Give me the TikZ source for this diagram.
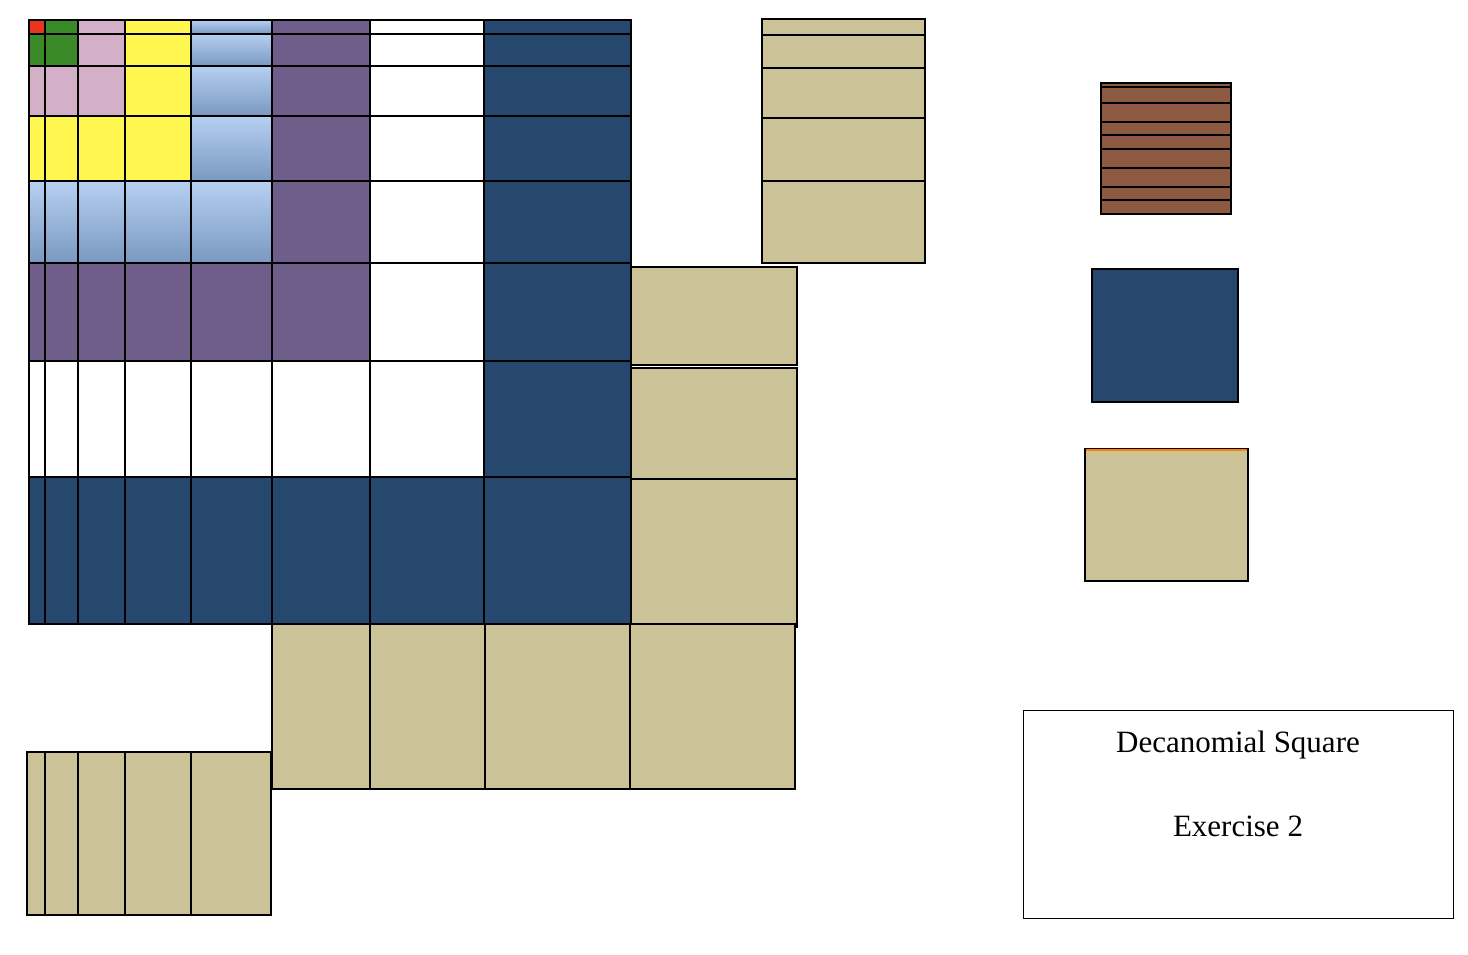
\documentclass[tikz,border=0pt]{standalone}
\usepackage{fontspec}
\setmainfont{Liberation Serif}
\begin{document}
\begin{tikzpicture}[x=1pt,y=-1pt,
  cell/.style={draw=black,line width=1.3pt},
  tanc/.style={cell,fill=tanc},
  lbl/.style={font=\fontsize{31}{36}\selectfont}]
\definecolor{c0}{HTML}{E8361E}
\definecolor{c1}{HTML}{3A8A2A}
\definecolor{c2}{HTML}{D4B0C8}
\definecolor{c3}{HTML}{FFF650}
\definecolor{c4}{HTML}{86B0E8}
\definecolor{c5}{HTML}{705E8A}
\definecolor{c6}{HTML}{FFFFFF}
\definecolor{c7}{HTML}{27486E}
\definecolor{tanc}{HTML}{CBC397}
\definecolor{brownc}{HTML}{8B5A40}
\useasboundingbox (0,0) rectangle (1468,954);
\def\XS{{29,45,78,125,191,272,370,484,631}}
\def\YS{{20,34,66,116,181,263,361,477,624}}
\foreach \i in {0,...,7}{
  \foreach \j in {0,...,7}{
    \pgfmathtruncatemacro{\k}{max(\i,\j)}
    \pgfmathsetmacro{\xa}{\XS[\i]}\pgfmathsetmacro{\xb}{\XS[\i+1]}
    \pgfmathsetmacro{\ya}{\YS[\j]}\pgfmathsetmacro{\yb}{\YS[\j+1]}
    \ifnum\k=4
      \draw[cell,top color=c4!60!white,bottom color=c4!80!black!90] (\xa,\ya) rectangle (\xb,\yb);
    \else
      \draw[cell,fill=c\k] (\xa,\ya) rectangle (\xb,\yb);
    \fi
  }}
% tan right column
\draw[tanc] (631,267) rectangle (797,365);
\draw[tanc] (631,368) rectangle (797,479);
\draw[tanc] (631,479) rectangle (797,627);
% tan bottom row
\foreach \a/\b in {272/370,370/485,485/630,630/795}
  \draw[tanc] (\a,624) rectangle (\b,789);
% top right tan
\foreach \a/\b in {19/35,35/68,68/118,118/181,181/263}
  \draw[tanc] (762,\a) rectangle (925,\b);
% bottom left tan
\foreach \a/\b in {27/45,45/78,78/125,125/191,191/271}
  \draw[tanc] (\a,752) rectangle (\b,915);
% brown square
\draw[cell,fill=brownc] (1101,83) rectangle (1231,214);
\foreach \y in {87,103,122,135,149,168,187,200}
  \draw[line width=1.3pt] (1101,\y) -- (1231,\y);
% navy square
\draw[cell,fill=c7] (1092,269) rectangle (1238,402);
% tan square
\draw[tanc] (1085,449) rectangle (1248,581);
\draw[orange,line width=1.5pt] (1086,450) -- (1247,450);
% label box
\node[draw=black,line width=1pt,minimum width=430pt,minimum height=208pt,inner sep=0pt] (box) at (1238,814) {};
\node[lbl] (t1) at (1238,745) {Decanomial Square};
\node[lbl] (t2) at (1238,826) {Exercise 2};
\end{tikzpicture}
\end{document}
